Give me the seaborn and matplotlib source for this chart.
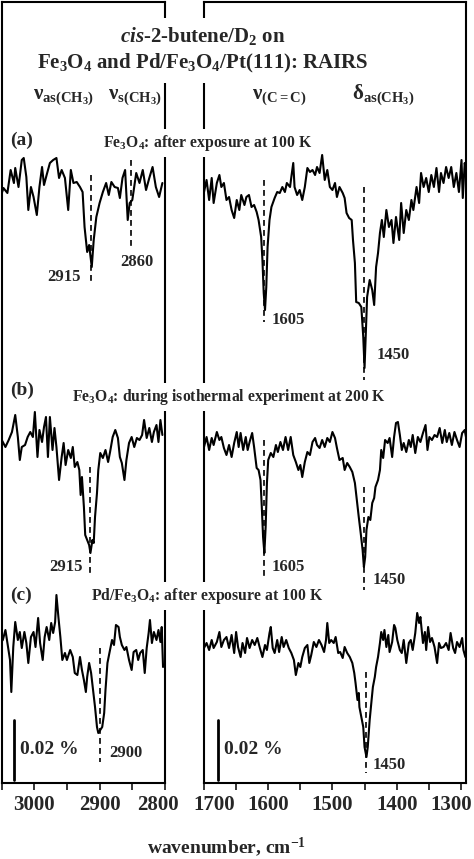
import matplotlib
matplotlib.use("Agg")
import pandas as pd
import matplotlib.pyplot as plt
import matplotlib.transforms as mtransforms
from matplotlib.ticker import MultipleLocator
import seaborn as sns

# Spectra; signal in arbitrary units where 60 units = 0.02 %
# (a) Fe3O4 after exposure at 100 K
A_CH_WN = [3052, 3047, 3041, 3036, 3031, 3029, 3024, 3019, 3016, 3012,
           3009, 3005, 3001, 2996, 2992, 2988, 2985, 2981, 2976, 2971,
           2966, 2962, 2958, 2953, 2948, 2944, 2940, 2935, 2930, 2926,
           2923, 2919, 2916, 2912, 2909, 2905, 2900, 2895, 2890, 2886,
           2882, 2877, 2872, 2869, 2865, 2861, 2857, 2854, 2850, 2844,
           2839, 2834, 2829, 2824, 2819, 2814, 2809, 2804]
A_CH = [-8, 2, -3, 20, 7, 22, 3, 30, 32, 13,
        -20, 3, -7, -25, 3, 23, 5, 15, 27, 30,
        32, 12, 20, 12, -20, 20, 7, 8, 3, -2,
        -37, -62, -55, -77, -50, -27, -13, -2, 7, -5,
        8, 3, 2, -8, 12, 20, -30, -13, -10, 17,
        7, 20, 0, 12, 23, 3, -7, 7]
A_CC_WN = [1700, 1696, 1692, 1688, 1685, 1680, 1676, 1673, 1669, 1665,
           1661, 1657, 1653, 1649, 1645, 1642, 1637, 1634, 1630, 1626,
           1622, 1618, 1615, 1611, 1609, 1607, 1605, 1603, 1601, 1598,
           1595, 1590, 1586, 1582, 1578, 1574, 1571, 1566, 1564, 1561,
           1559, 1555, 1551, 1547, 1543, 1539, 1535, 1531, 1527, 1524,
           1520, 1516, 1512, 1508, 1504, 1500, 1496, 1493, 1489, 1484,
           1481, 1478, 1474, 1470, 1468, 1465, 1463, 1459, 1455, 1452,
           1450, 1448, 1446, 1442, 1438, 1435, 1432, 1429, 1426, 1423,
           1420, 1416, 1412, 1408, 1405, 1401, 1396, 1393, 1389, 1385,
           1381, 1377, 1374, 1369, 1365, 1362, 1358, 1354, 1350, 1346,
           1342, 1338, 1334, 1331, 1327, 1323, 1319, 1315, 1311, 1307,
           1303, 1299, 1297, 1294, 1292]
A_CC = [-2, 10, -10, 12, -13, 7, 15, 3, 7, -10,
        -7, -20, -28, -10, -20, -5, -15, -7, -5, -17,
        -15, -22, -30, -47, -70, -103, -120, -97, -57, -30,
        -17, -8, -2, -3, 3, -2, 7, 3, 13, 27,
        3, -5, 0, -10, 3, 22, 18, 20, 15, 23,
        17, 35, 10, 20, 3, 0, 7, -7, 3, -3,
        -8, -23, -28, -30, -50, -73, -112, -113, -117, -147,
        -178, -143, -107, -90, -100, -115, -77, -63, -43, -30,
        -47, -20, -37, -30, -53, -27, -50, -13, -43, -20,
        -30, -10, -20, 3, -13, 17, 3, 12, -2, 15,
        3, 22, -2, 17, 7, 23, 12, 23, 3, 17,
        -2, 30, -8, 27, 20]

# (b) Fe3O4 during isothermal experiment at 200 K
B_CH_WN = [3052, 3048, 3044, 3039, 3034, 3029, 3025, 3022, 3019, 3014,
           3010, 3006, 3002, 2999, 2995, 2992, 2988, 2985, 2982, 2979,
           2976, 2972, 2969, 2966, 2962, 2958, 2955, 2952, 2948, 2944,
           2941, 2938, 2934, 2931, 2929, 2927, 2924, 2922, 2919, 2916,
           2914, 2911, 2909, 2907, 2904, 2902, 2899, 2895, 2891, 2887,
           2884, 2880, 2876, 2872, 2869, 2866, 2862, 2859, 2855, 2851,
           2847, 2843, 2839, 2835, 2832, 2828, 2824, 2820, 2817, 2813,
           2810, 2807, 2804]
B_CH = [3, -2, -7, 0, 8, 25, 3, -20, -7, -5,
        3, 8, 3, 28, -17, 10, -2, 13, 23, -17,
        23, -10, 12, -7, -40, -17, -3, -25, -10, -18,
        -7, -27, -22, -30, -55, -37, -67, -95, -100, -105,
        -113, -100, -103, -77, -53, -30, -13, -18, -10, -22,
        -12, 3, 10, 2, -17, -23, -40, -20, -3, 3,
        -7, 2, 0, 5, 20, 2, 12, -2, 8, 15,
        -2, 20, 5]
B_CC_WN = [1700, 1696, 1692, 1688, 1685, 1680, 1676, 1673, 1669, 1665,
           1661, 1657, 1653, 1649, 1646, 1643, 1639, 1635, 1632, 1629,
           1625, 1622, 1618, 1615, 1612, 1610, 1608, 1606, 1604, 1602,
           1600, 1596, 1592, 1588, 1585, 1581, 1577, 1573, 1569, 1565,
           1561, 1557, 1553, 1550, 1547, 1543, 1539, 1535, 1531, 1527,
           1524, 1520, 1516, 1512, 1508, 1504, 1500, 1496, 1493, 1489,
           1484, 1481, 1477, 1473, 1469, 1465, 1462, 1459, 1456, 1453,
           1451, 1449, 1447, 1444, 1441, 1438, 1435, 1433, 1429, 1426,
           1424, 1421, 1418, 1414, 1411, 1407, 1404, 1401, 1398, 1395,
           1392, 1389, 1385, 1381, 1378, 1375, 1371, 1367, 1363, 1359,
           1355, 1352, 1349, 1345, 1341, 1337, 1333, 1329, 1325, 1322,
           1318, 1314, 1310, 1306, 1302, 1298, 1294, 1292]
B_CC = [-7, 3, -10, 2, -5, 8, 0, 3, -8, -15,
        -5, -17, -3, 8, -7, 7, -10, 3, -10, -2,
        7, -7, -28, -30, -40, -67, -97, -113, -87, -43,
        -20, -13, -17, -5, -12, -2, -10, 3, -10, 3,
        -15, -22, -30, -25, -37, -22, -12, -15, -2, 2,
        -5, -8, 0, -7, 2, -2, 8, 2, -8, -20,
        -18, -30, -23, -27, -32, -43, -60, -77, -93, -110,
        -127, -117, -90, -77, -80, -63, -58, -47, -40, -30,
        -10, -18, 0, -3, 2, -17, 3, 17, 18, 5,
        -10, -3, -12, 0, -7, 5, -13, 3, -2, 7,
        15, -10, 3, 0, 5, 3, 12, -3, 10, -2,
        7, -5, 8, 0, -7, 7, 10, 3]

# (c) Pd/Fe3O4 after exposure at 100 K
C_CH_WN = [3052, 3048, 3044, 3040, 3037, 3035, 3032, 3029, 3025, 3022,
           3019, 3015, 3012, 3009, 3005, 3001, 2998, 2994, 2991, 2987,
           2984, 2981, 2977, 2974, 2971, 2968, 2966, 2963, 2960, 2957,
           2953, 2950, 2945, 2941, 2938, 2934, 2930, 2927, 2924, 2921,
           2919, 2916, 2913, 2910, 2907, 2904, 2902, 2899, 2896, 2893,
           2891, 2888, 2885, 2881, 2878, 2875, 2871, 2869, 2866, 2862,
           2859, 2855, 2851, 2848, 2844, 2841, 2838, 2834, 2831, 2828,
           2825, 2823, 2820, 2817, 2813, 2810, 2807, 2805, 2803]
C_CH = [-3, 0, 10, -7, -20, -52, -7, 18, 0, 8,
        -8, 8, -3, -23, 3, 8, -7, 22, -3, -20,
        3, 13, 0, 17, 7, 18, 45, 23, 3, -20,
        -13, -20, -10, -17, -33, -35, -17, -30, -40, -52,
        -37, -23, -33, -50, -67, -87, -93, -90, -87, -73,
        -50, -23, -13, 0, -5, 15, 13, 3, -5, -10,
        -7, -20, -30, -12, -10, -20, -13, -10, -33, -8,
        7, 20, -3, 8, 0, 10, -2, 13, -27]
C_CC_WN = [1700, 1696, 1692, 1688, 1685, 1680, 1676, 1673, 1669, 1665,
           1661, 1657, 1653, 1650, 1647, 1643, 1640, 1636, 1633, 1629,
           1625, 1621, 1617, 1613, 1609, 1605, 1602, 1598, 1596, 1593,
           1590, 1586, 1583, 1579, 1576, 1572, 1568, 1564, 1560, 1557,
           1553, 1550, 1547, 1543, 1539, 1536, 1533, 1529, 1525, 1521,
           1517, 1513, 1510, 1508, 1505, 1502, 1498, 1495, 1491, 1488,
           1484, 1481, 1477, 1473, 1469, 1466, 1464, 1461, 1459, 1458,
           1455, 1452, 1450, 1447, 1445, 1442, 1439, 1437, 1434, 1432,
           1429, 1426, 1424, 1421, 1419, 1416, 1413, 1411, 1407, 1404,
           1402, 1399, 1395, 1392, 1389, 1385, 1381, 1378, 1375, 1371,
           1368, 1365, 1363, 1359, 1356, 1354, 1351, 1348, 1345, 1341,
           1337, 1334, 1331, 1327, 1323, 1319, 1316, 1312, 1309, 1306,
           1302, 1298, 1296, 1293]
C_CC = [-8, -3, -10, 0, -8, -2, 8, -7, 0, 3,
        -8, 5, -13, 8, -7, -17, -3, -13, 2, -8,
        0, -5, 2, -8, -17, -5, -10, 7, 13, -8,
        -13, 0, -12, 3, -7, 0, -8, -13, -20, -35,
        -23, -27, -17, -8, -5, -23, -15, -2, -7, 0,
        -5, -12, 0, 17, -3, 0, -3, 3, -13, -12,
        -18, -7, -13, -17, -23, -33, -43, -60, -53, -67,
        -77, -87, -107, -117, -107, -80, -60, -47, -37, -27,
        -17, -3, 8, 0, 10, -7, 5, -12, -2, 15,
        12, 0, -10, -13, 0, -23, -3, 0, -10, 7,
        27, 17, 23, -3, 8, -10, 13, -2, 2, -7,
        -23, -3, -8, -7, -3, -10, 7, -8, -13, -2,
        -7, 2, -10, -17]

PANELS = ["a", "b", "c"]
CONDITIONS = ["Fe$_3$O$_4$: after exposure at 100 K",
              "Fe$_3$O$_4$: during isothermal experiment at 200 K",
              "Pd/Fe$_3$O$_4$: after exposure at 100 K"]
MODES = [r"$\mathsf{\nu}_{\mathbf{as(CH}_\mathbf{3}\mathbf{)}}$",
         r"$\mathsf{\nu}_{\mathbf{s(CH}_\mathbf{3}\mathbf{)}}$",
         r"$\mathsf{\nu}_{\mathbf{(C=C)}}$",
         r"$\mathsf{\delta}_{\mathbf{as(CH}_\mathbf{3}\mathbf{)}}$"]

# peak markers: (panel, region, wavenumber, label)
PEAKS = [("a", "CH", 2913, "2915"), ("a", "CH", 2852, "2860"),
         ("a", "CC", 1606, "1605"), ("a", "CC", 1451, "1450"),
         ("b", "CH", 2915, "2915"), ("b", "CC", 1606, "1605"),
         ("b", "CC", 1451, "1450"),
         ("c", "CH", 2900, "2900"), ("c", "CC", 1447, "1450")]

# layout constants (vertical axis runs 0 at top to -781 at bottom)
BASE = {"a": -188, "b": -438, "c": -638}
PEAK_SPAN = [(-173, -283), (-158, -245), (-178, -320), (-185, -378),
             (-465, -575), (-438, -576), (-485, -588),
             (-646, -760), (-670, -771)]
PEAK_TEXT = [(2955, -275, "center"), (2843, -260, "center"),
             (1594, -318, "left"), (1431, -353, "left"),
             (2952, -565, "center"), (1594, -565, "left"),
             (1437, -578, "left"),
             (2886, -751, "left"), (1437, -763, "left")]
SCALE_UNITS = 60  # bar length equal to 0.02 %

frames = []
for p, (wch, ch, wcc, cc) in zip(PANELS, [(A_CH_WN, A_CH, A_CC_WN, A_CC),
                                          (B_CH_WN, B_CH, B_CC_WN, B_CC),
                                          (C_CH_WN, C_CH, C_CC_WN, C_CC)]):
    frames.append(pd.DataFrame({"wn": wch, "signal": ch, "panel": p, "region": "CH"}))
    frames.append(pd.DataFrame({"wn": wcc, "signal": cc, "panel": p, "region": "CC"}))
df = pd.concat(frames, ignore_index=True)
df["y"] = df["signal"] + df["panel"].map(BASE)

sns.set_style("ticks")
plt.rcParams["font.family"] = ["Liberation Serif", "DejaVu Serif"]
plt.rcParams["font.weight"] = "bold"
plt.rcParams["mathtext.fontset"] = "custom"
plt.rcParams["mathtext.rm"] = "Liberation Serif:bold"
plt.rcParams["mathtext.bf"] = "Liberation Serif:bold"
plt.rcParams["mathtext.sf"] = "Liberation Serif"
plt.rcParams["mathtext.it"] = "Liberation Serif:italic:bold"

W, H = 474, 859
fig = plt.figure(figsize=(W / 100, H / 100), dpi=100)
ax_l = fig.add_axes([1.5 / W, 76 / H, 163.5 / W, 781 / H])
ax_r = fig.add_axes([204 / W, 76 / H, 262 / W, 781 / H])
axes = {"CH": ax_l, "CC": ax_r}

for region, ax in axes.items():
    sns.lineplot(data=df[df["region"] == region], x="wn", y="y", units="panel",
                 estimator=None, color="black", lw=1.5, ax=ax)
    ax.set_ylim(-781, 0)
    ax.set_yticks([])
    ax.set_xlabel("")
    ax.set_ylabel("")
    ax.xaxis.set_minor_locator(MultipleLocator(50))
    ax.tick_params(axis="x", which="both", direction="out", length=5, width=1.3,
                   labelsize=15, pad=4)
    for s in ax.spines.values():
        s.set_visible(True)
        s.set_linewidth(1.5)
        s.set_color("black")

ax_l.set_xlim(3050, 2800)
ax_r.set_xlim(1700, 1292)
ax_l.set_xticks([3000, 2900, 2800])
ax_r.set_xticks([1700, 1600, 1500, 1400, 1300])

# nudge the crowded edge labels apart as in the original
for ax, shifts in [(ax_l, [0, 0, -7]), (ax_r, [10, 0, 0, 0, -10])]:
    for tick, dx in zip(ax.xaxis.get_major_ticks(), shifts):
        if dx:
            off = mtransforms.ScaledTranslation(dx / 100, 0, fig.dpi_scale_trans)
            tick.label1.set_transform(tick.label1.get_transform() + off)

for (panel, region, wn, lab), (y0, y1), (tx, ty, ha) in zip(PEAKS, PEAK_SPAN, PEAK_TEXT):
    ax = axes[region]
    ax.plot([wn, wn], [y0, y1], color="black", lw=1.2, ls=(0, (3.5, 2.5)))
    ax.text(tx, ty, lab, ha=ha, va="center", fontsize=12)

# scale bars
for ax, wn in [(ax_l, 3031), (ax_r, 1678)]:
    ax.plot([wn, wn], [-778, -778 + SCALE_UNITS], color="black", lw=2)
ax_l.text(3021, -747, "0.02 %", ha="left", va="center", fontsize=14)
ax_r.text(1669, -747, "0.02 %", ha="left", va="center", fontsize=14)

fig.text(203 / W, 1 - 50 / H,
         "$\\mathit{cis}$-2-butene/D$_2$ on\nFe$_3$O$_4$ and Pd/Fe$_3$O$_4$/Pt(111): RAIRS",
         ha="center", va="center", fontsize=15, linespacing=1.3,
         bbox=dict(facecolor="white", edgecolor="none", pad=6))

for mode, mx in zip(MODES, [33, 108, 252, 352]):
    fig.text(mx / W, 1 - 99 / H, mode, ha="left", va="baseline", fontsize=15)

for lab, cond, ly, cx, cy in zip(PANELS, CONDITIONS, [140, 390, 595],
                                 [208, 229, 207], [143, 397, 596]):
    fig.text(10 / W, 1 - ly / H, f"({lab})", ha="left", va="center", fontsize=14)
    fig.text(cx / W, 1 - cy / H, cond, ha="center", va="center", fontsize=11.3,
             bbox=dict(facecolor="white", edgecolor="none", pad=3))

fig.text(227 / W, 1 - 847 / H, "wavenumber, cm$^{\\mathbf{-1}}$", ha="center",
         va="center", fontsize=14)

fig.savefig("out.png", dpi=100)
